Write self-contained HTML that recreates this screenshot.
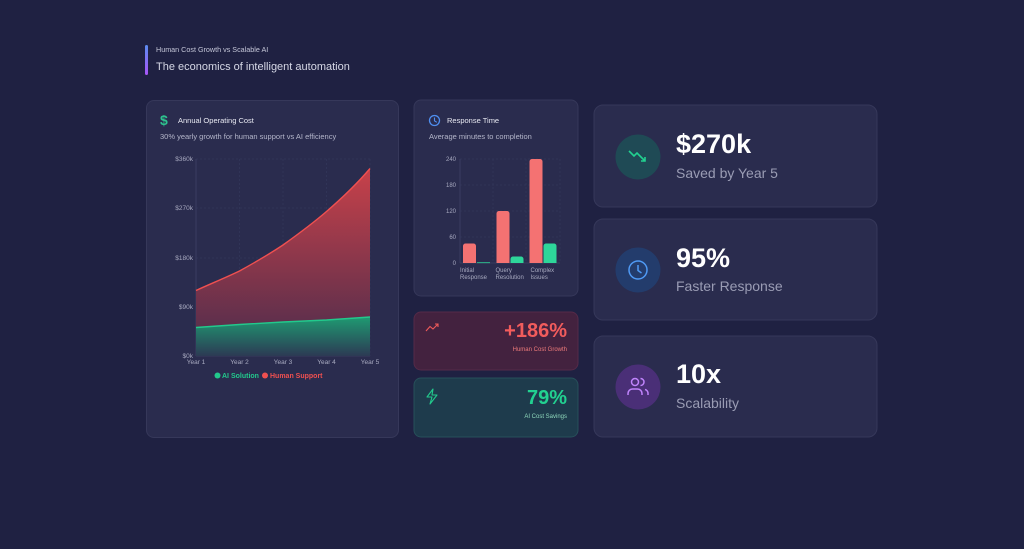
<!DOCTYPE html>
<html><head><meta charset="utf-8"><style>
*{margin:0;padding:0;box-sizing:border-box}
body{width:1024px;height:549px;background:#1f2142;font-family:"Liberation Sans",sans-serif;position:relative;overflow:hidden;color:#fff}
.card{position:absolute;background:#2a2c4e;border:1px solid #36385a;border-radius:8px}
.t{position:absolute;white-space:nowrap}
</style></head><body>
<div style="position:absolute;left:145px;top:45px;width:3px;height:30px;border-radius:2px;background:linear-gradient(#5b8cf0,#a855f7)"></div>
<div class="t" style="left:156px;top:45px;font-size:7.2px;color:#c4c6d8">Human Cost Growth vs Scalable AI</div>
<div class="t" style="left:156px;top:61px;font-size:11px;color:#d6d8e6">The economics of intelligent automation</div>

<div class="card" style="left:146px;top:100px;width:253px;height:338px"></div>
<div class="t" style="left:160px;top:112px;font-size:14px;color:#2ec48f;font-weight:bold">$</div>
<div class="t" style="left:178px;top:116px;font-size:7.5px;color:#e8e9f2">Annual Operating Cost</div>
<div class="t" style="left:160px;top:132px;font-size:7.5px;color:#b4b6ca">30% yearly growth for human support vs AI efficiency</div>

<svg style="position:absolute;left:0;top:0" width="1024" height="549">
<defs>
<linearGradient id="hr" x1="0" y1="0" x2="0" y2="1"><stop offset="0" stop-color="#c8414a"/><stop offset="1" stop-color="#4a2c4c"/></linearGradient>
<linearGradient id="ai" x1="0" y1="0" x2="0" y2="1"><stop offset="0" stop-color="#1f9a72"/><stop offset="1" stop-color="#2c3a54"/></linearGradient>
</defs>
<g stroke="#363a5e" stroke-width="0.6" stroke-dasharray="2,2">
<line x1="196" y1="159" x2="370" y2="159"/><line x1="196" y1="208" x2="370" y2="208"/><line x1="196" y1="258" x2="370" y2="258"/><line x1="196" y1="307" x2="370" y2="307"/>
<line x1="239.5" y1="159" x2="239.5" y2="356"/><line x1="283" y1="159" x2="283" y2="356"/><line x1="326.5" y1="159" x2="326.5" y2="356"/><line x1="370" y1="159" x2="370" y2="356"/>
</g>
<line x1="196" y1="159" x2="196" y2="356" stroke="#3e4266" stroke-width="0.8"/>
<line x1="196" y1="356" x2="370" y2="356" stroke="#3e4266" stroke-width="0.8"/>
<path d="M196,290.5 C210,284 225,278 239.5,271 C254,263 268,255 283,245 C297,235 312,224 326.5,211.5 C341,199 356,185 370,168.5 L370,356 L196,356Z" fill="url(#hr)"/>
<path d="M196,290.5 C210,284 225,278 239.5,271 C254,263 268,255 283,245 C297,235 312,224 326.5,211.5 C341,199 356,185 370,168.5" fill="none" stroke="#ef5050" stroke-width="1.4"/>
<path d="M196,327.5 L239.5,324.5 L283,322 L326.5,320 L370,317 L370,356 L196,356Z" fill="url(#ai)"/>
<path d="M196,327.5 L239.5,324.5 L283,322 L326.5,320 L370,317" fill="none" stroke="#22c98c" stroke-width="1.4"/>
<g font-size="6.5" fill="#a8aac0" text-anchor="end" font-family="Liberation Sans">
<text x="193" y="161">$360k</text><text x="193" y="210">$270k</text><text x="193" y="260">$180k</text><text x="193" y="309">$90k</text><text x="193" y="358">$0k</text>
</g>
<g font-size="6.5" fill="#a8aac0" text-anchor="middle" font-family="Liberation Sans">
<text x="196" y="364">Year 1</text><text x="239.5" y="364">Year 2</text><text x="283" y="364">Year 3</text><text x="326.5" y="364">Year 4</text><text x="370" y="364">Year 5</text>
</g>
<circle cx="217.5" cy="375.5" r="3" fill="#22c98c"/>
<text x="222" y="378" font-size="7" fill="#22c98c" font-weight="bold" font-family="Liberation Sans">AI Solution</text>
<circle cx="265" cy="375.5" r="3" fill="#ef5050"/>
<text x="270" y="378" font-size="7" fill="#ef5050" font-weight="bold" font-family="Liberation Sans">Human Support</text>

<rect x="414" y="100" width="164" height="196" rx="7" fill="#2a2c4e" stroke="#36385a"/>
<circle cx="434.5" cy="120.5" r="5" fill="none" stroke="#4f8ff0" stroke-width="1.3"/>
<path d="M434.5,117.5 V120.8 L436.8,122.3" fill="none" stroke="#4f8ff0" stroke-width="1.1"/>
<text x="447" y="123" font-size="7.5" fill="#e8e9f2" font-family="Liberation Sans">Response Time</text>
<text x="429" y="139" font-size="7.5" fill="#b4b6ca" font-family="Liberation Sans">Average minutes to completion</text>
<g stroke="#363a5e" stroke-width="0.6" stroke-dasharray="2,2">
<line x1="460" y1="159" x2="560" y2="159"/><line x1="460" y1="185" x2="560" y2="185"/><line x1="460" y1="211" x2="560" y2="211"/><line x1="460" y1="237" x2="560" y2="237"/>
<line x1="493" y1="159" x2="493" y2="263"/><line x1="526" y1="159" x2="526" y2="263"/><line x1="560" y1="159" x2="560" y2="263"/>
</g>
<line x1="460" y1="159" x2="460" y2="263" stroke="#3e4266" stroke-width="0.8"/>
<line x1="460" y1="263" x2="560" y2="263" stroke="#3e4266" stroke-width="0.8"/>
<g font-size="6" fill="#a8aac0" text-anchor="end" font-family="Liberation Sans">
<text x="456" y="161">240</text><text x="456" y="187">180</text><text x="456" y="213">120</text><text x="456" y="239">60</text><text x="456" y="265">0</text>
</g>
<g fill="#f47272">
<path d="M463,263 V246 a2.5,2.5 0 0 1 2.5,-2.5 h8 a2.5,2.5 0 0 1 2.5,2.5 V263Z"/>
<path d="M496.5,263 V213.5 a2.5,2.5 0 0 1 2.5,-2.5 h8 a2.5,2.5 0 0 1 2.5,2.5 V263Z"/>
<path d="M529.5,263 V161.5 a2.5,2.5 0 0 1 2.5,-2.5 h8 a2.5,2.5 0 0 1 2.5,2.5 V263Z"/>
</g>
<g fill="#2ed69a">
<rect x="477" y="262.3" width="13" height="0.8"/>
<path d="M510.5,263 V259 a2.5,2.5 0 0 1 2.5,-2.5 h8 a2.5,2.5 0 0 1 2.5,2.5 V263Z"/>
<path d="M543.5,263 V246 a2.5,2.5 0 0 1 2.5,-2.5 h8 a2.5,2.5 0 0 1 2.5,2.5 V263Z"/>
</g>
<g font-size="6" fill="#a8aac0" font-family="Liberation Sans">
<text x="460" y="272">Initial</text><text x="460" y="279">Response</text>
<text x="495.5" y="272">Query</text><text x="495.5" y="279">Resolution</text>
<text x="530.5" y="272">Complex</text><text x="530.5" y="279">Issues</text>
</g>

<rect x="414" y="312" width="164" height="58" rx="7" fill="#43223f" stroke="#552a48"/>
<path d="M426,331 L430,326.5 L433,329 L438,324 M435,324 H438 V327" fill="none" stroke="#ef5a5a" stroke-width="1.1"/>
<text x="567" y="337" font-size="20" font-weight="bold" fill="#f25c5c" text-anchor="end" font-family="Liberation Sans">+186%</text>
<text x="567" y="351" font-size="6" fill="#ef7b7b" text-anchor="end" font-family="Liberation Sans">Human Cost Growth</text>
<rect x="414" y="378" width="164" height="59" rx="7" fill="#1e3b4c" stroke="#27505a"/>
<path d="M433,389 L427,397 H432 L430,404 L437,395 H432Z" fill="none" stroke="#22c98c" stroke-width="1.1" stroke-linejoin="round"/>
<text x="567" y="404" font-size="20" font-weight="bold" fill="#22d190" text-anchor="end" font-family="Liberation Sans">79%</text>
<text x="567" y="418" font-size="6" fill="#8fd9bc" text-anchor="end" font-family="Liberation Sans">AI Cost Savings</text>

<g font-family="Liberation Sans">
<rect x="594" y="105" width="283" height="102" rx="9" fill="#2a2c4e" stroke="#36385a"/>
<circle cx="638" cy="157" r="22.5" fill="#1f4a55"/>
<path d="M629,151 L634,156 L637,153 L645,161 M641,161 H645 V157" fill="none" stroke="#22d190" stroke-width="1.6"/>
<text x="676" y="153" font-size="27" font-weight="bold" fill="#fff">$270k</text>
<text x="676" y="178" font-size="14" fill="#9a9cb4">Saved by Year 5</text>

<rect x="594" y="219" width="283" height="101" rx="9" fill="#2a2c4e" stroke="#36385a"/>
<circle cx="638" cy="270" r="22.5" fill="#233c6c"/>
<circle cx="638" cy="270" r="9" fill="none" stroke="#4f9af5" stroke-width="1.5"/>
<path d="M638,265 V270.5 L641.5,273" fill="none" stroke="#4f9af5" stroke-width="1.5"/>
<text x="676" y="267" font-size="27" font-weight="bold" fill="#fff">95%</text>
<text x="676" y="291" font-size="14" fill="#9a9cb4">Faster Response</text>

<rect x="594" y="336" width="283" height="101" rx="9" fill="#2a2c4e" stroke="#36385a"/>
<circle cx="638" cy="387" r="22.5" fill="#4a2f77"/>
<circle cx="635" cy="382" r="3.5" fill="none" stroke="#c084fc" stroke-width="1.5"/>
<path d="M628,395 v-1.5 a4.5,4.5 0 0 1 4.5,-4.5 h5 a4.5,4.5 0 0 1 4.5,4.5 v1.5 M640.5,378.5 a3.5,3.5 0 0 1 0,7 M645,389.5 a4,4 0 0 1 3,4 v1.5" fill="none" stroke="#c084fc" stroke-width="1.5"/>
<text x="676" y="383" font-size="27" font-weight="bold" fill="#fff">10x</text>
<text x="676" y="408" font-size="14" fill="#9a9cb4">Scalability</text>
</g>
</svg>
</body></html>
